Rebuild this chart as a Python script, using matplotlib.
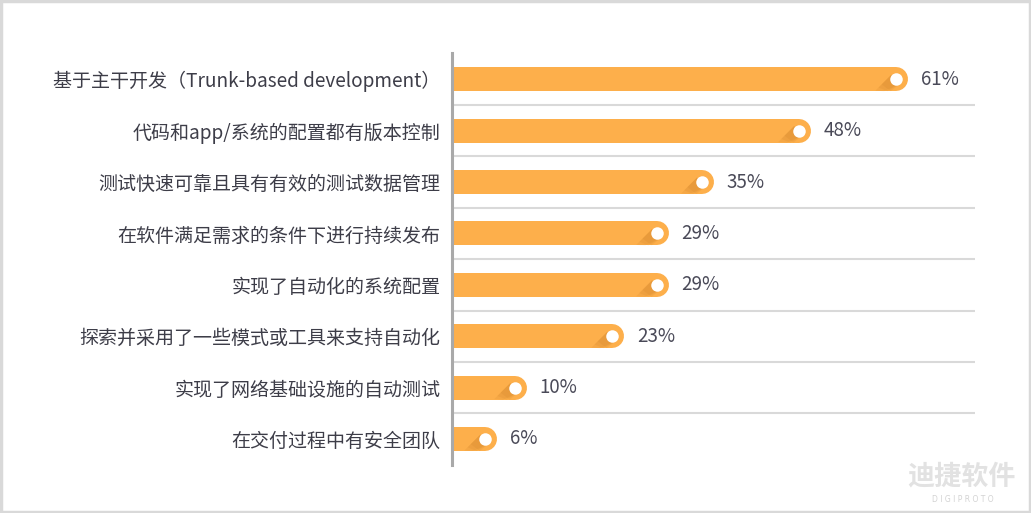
import matplotlib.pyplot as plt
import matplotlib.transforms as mtransforms
from matplotlib.patches import Polygon, Rectangle

plt.rcParams['font.family'] = ['Noto Sans CJK SC', 'DejaVu Sans']

# data
practices = [
    "基于主干开发（Trunk-based development）",
    "代码和app/系统的配置都有版本控制",
    "测试快速可靠且具有有效的测试数据管理",
    "在软件满足需求的条件下进行持续发布",
    "实现了自动化的系统配置",
    "探索并采用了一些模式或工具来支持自动化",
    "实现了网络基础设施的自动测试",
    "在交付过程中有安全团队",
]
shares = [61, 48, 35, 29, 29, 23, 10, 6]

bar_color = '#fdaf4b'
text_color = '#3d3d48'
pct_color = '#4a4a58'

W, H = 1031, 513
fig = plt.figure(figsize=(W / 100, H / 100), dpi=100)
fig.patch.set_facecolor('white')

# axes placed in pixel terms
left, right, top, bottom = 452, 975, 53.5, 464.7
ax = fig.add_axes([left / W, 1 - bottom / H, (right - left) / W, (bottom - top) / H])

xmax = 70
ax.set_xlim(0, xmax)
ax.set_ylim(len(shares) - 0.5, -0.5)
px_per_unit = (right - left) / xmax

bar_px = 24
r_units = (bar_px / 2) / px_per_unit

for i, v in enumerate(shares):
    end = v - r_units
    ax.plot([0, end], [i, i], color=bar_color, lw=bar_px * 0.72,
            solid_capstyle='round', zorder=2)
    # soft diagonal shadow under the dot
    trans = fig.dpi_scale_trans + mtransforms.ScaledTranslation(end, i, ax.transData)
    for k, a in [(1.0, 0.10), (0.8, 0.10), (0.6, 0.10)]:
        verts = [(4.5, -4.5), (-4.5, 4.5), (-4.5 - 16 * k, 4.5 - 16 * k), (4.5 - 16 * k, -4.5 - 16 * k)]
        ax.add_patch(Polygon([(x / 100, max(y, -12) / 100) for x, y in verts], closed=True,
                             transform=trans, facecolor='#b56a14', alpha=a,
                             edgecolor='none', zorder=3))
    ax.scatter([end], [i], s=(12.5 * 0.72) ** 2, color='white', zorder=4, linewidths=0)
    ax.annotate(f"{v}%", xy=(v, i), xytext=(13 * 0.72, 0), textcoords='offset points',
                va='center', ha='left', fontsize=13.5, color=pct_color)

# separators between rows
for i in range(len(shares) - 1):
    ax.axhline(i + 0.5, xmin=0.004, xmax=1, color='#d9d9d9', lw=1.5, zorder=1)

ax.set_yticks(range(len(practices)))
ax.set_yticklabels(practices, fontsize=13.7, color=text_color)
ax.tick_params(axis='y', length=0, pad=8.5)
ax.set_xticks([])

for s in ['top', 'right', 'bottom']:
    ax.spines[s].set_visible(False)
ax.spines['left'].set_color('#a9a9a9')
ax.spines['left'].set_linewidth(2.2)

# watermark
fig.text(962 / W, 1 - 477 / H, "迪捷软件", ha='center', va='center',
         fontsize=19.5, fontweight='bold', color='#e2e2e2')
fig.text(963 / W, 1 - 500 / H, "D I G I P R O T O", ha='center', va='center',
         fontsize=5.5, color='#d3d3d3', family='DejaVu Sans')

# border
fig.patches.append(Rectangle((0.001, 0.002), 0.998, 0.996, transform=fig.transFigure,
                             fill=False, edgecolor='#d9d9d9', lw=2.5))

fig.savefig('out.png', dpi=100)
